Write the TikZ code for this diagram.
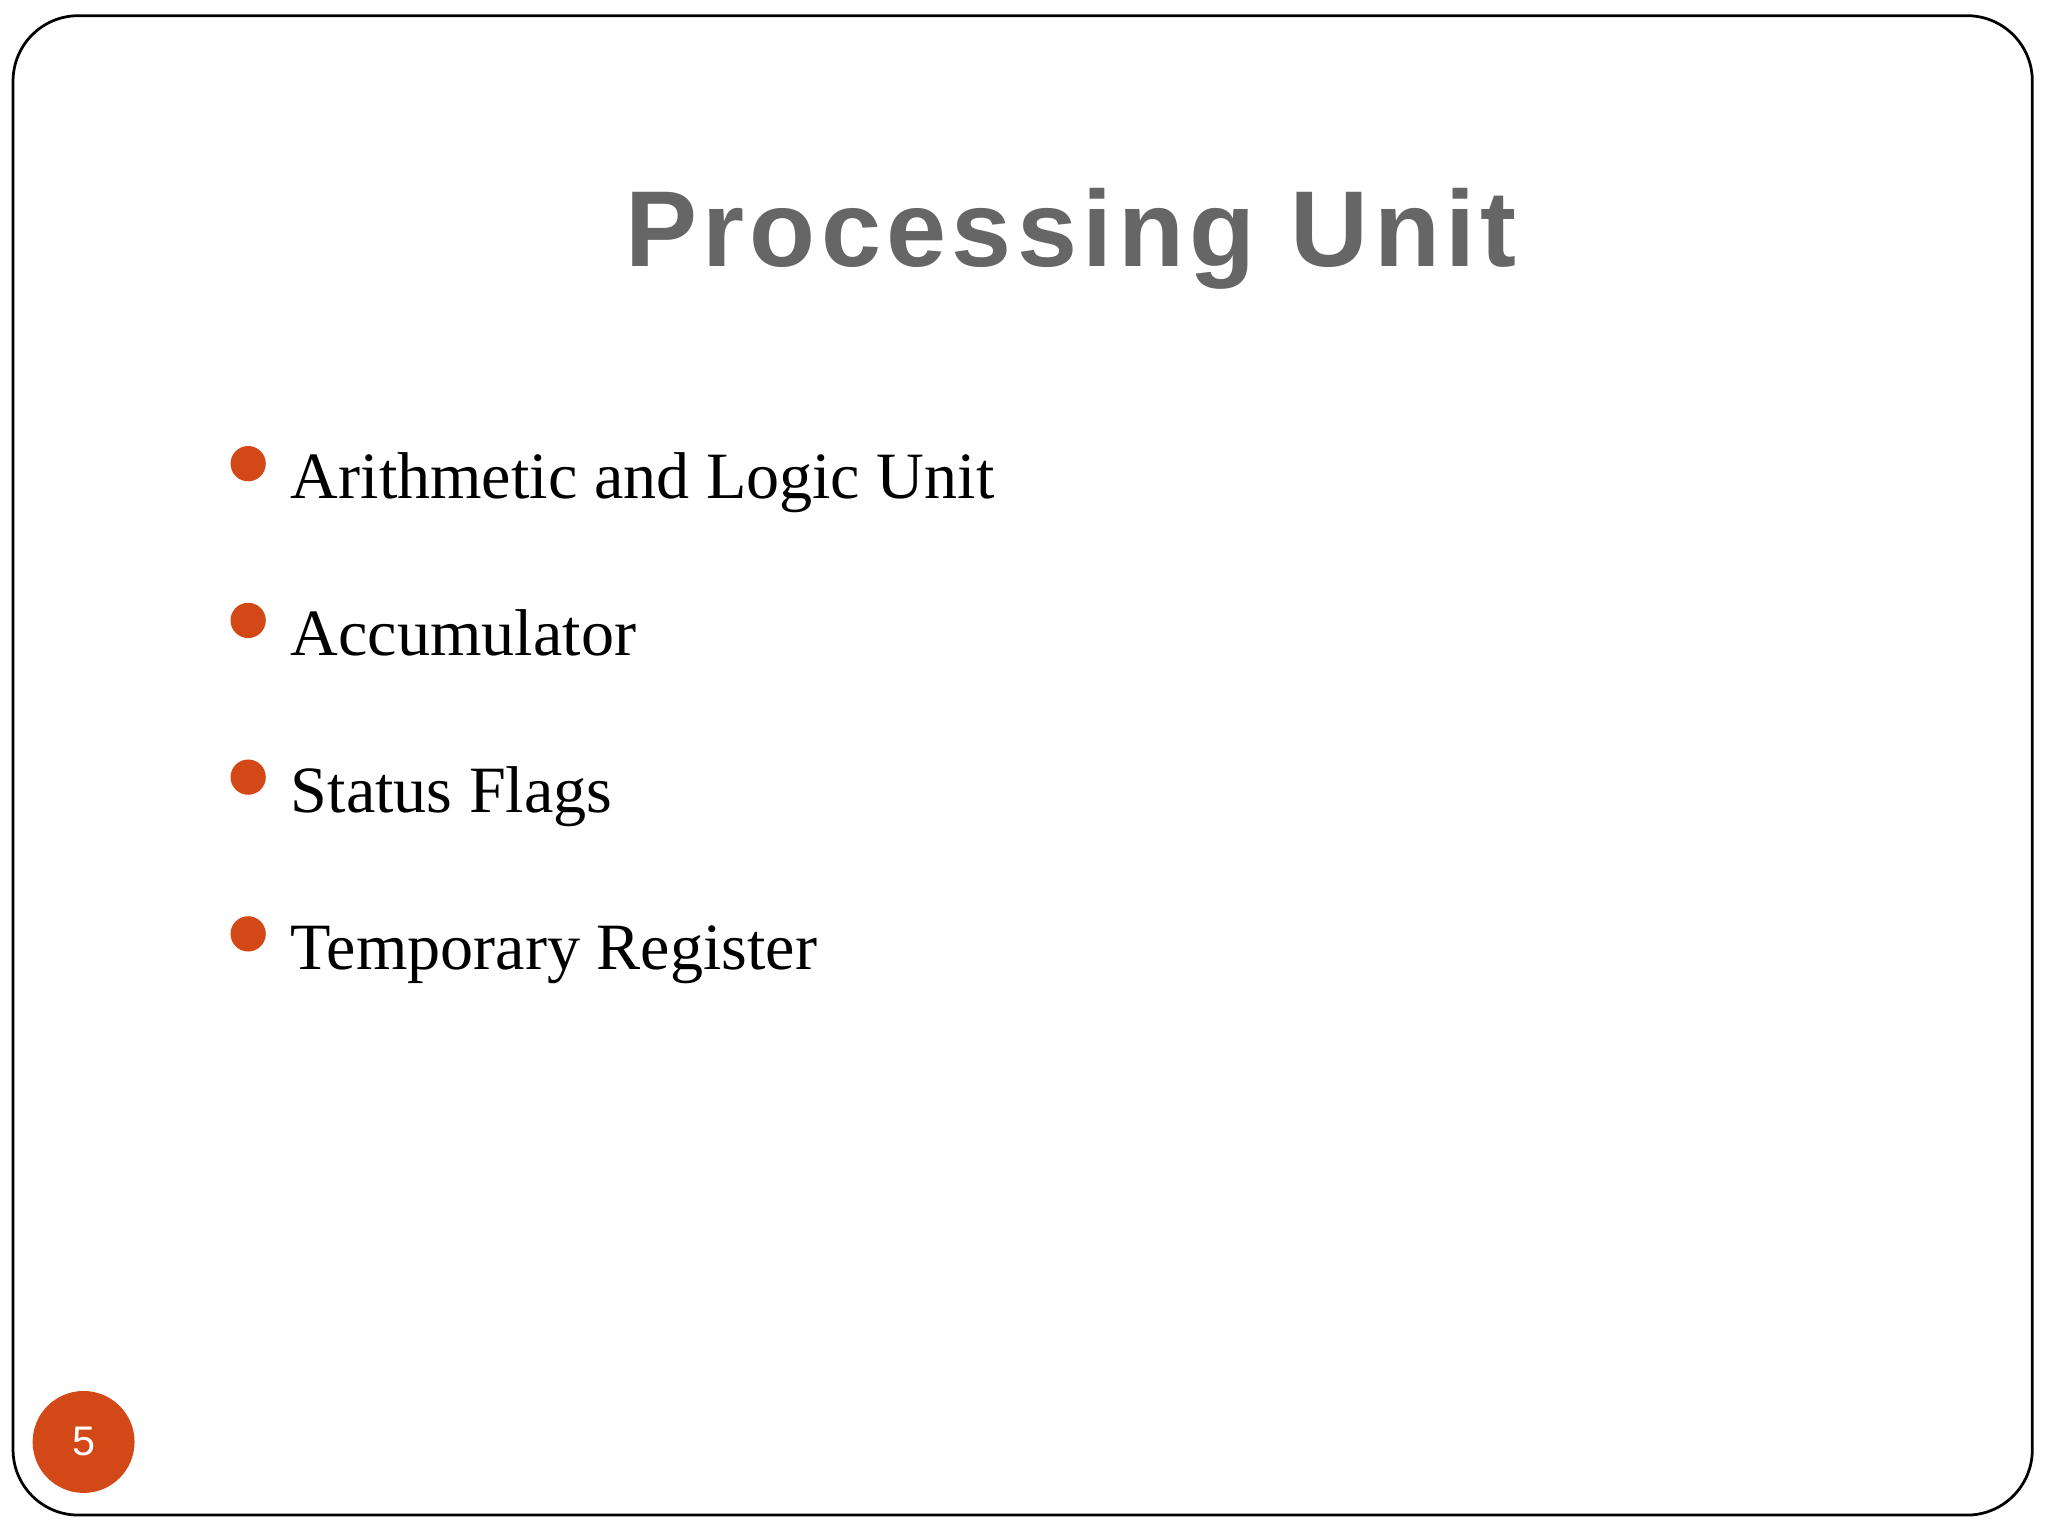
\documentclass[tikz,border=0pt]{standalone}
\usepackage{fontspec}
\setmainfont{Liberation Serif}
\newfontfamily\titlefont[LetterSpace=5]{Liberation Sans}
\newfontfamily\numfont{Liberation Sans}
\definecolor{accent}{HTML}{D34817}
\definecolor{titlegray}{HTML}{666666}
\begin{document}
\begin{tikzpicture}[x=0.01cm,y=-0.01cm,
  bullet/.style={circle,fill=accent,minimum size=0.27cm,inner sep=0},
  item/.style={anchor=base west,font=\fontsize{14.4}{17}\selectfont,inner sep=0}]
\useasboundingbox (0,0) rectangle (1568,1176);
\draw[line width=0.6pt,rounded corners=0.5cm] (10,12) rectangle (1556,1160);
\node[font=\titlefont\bfseries\fontsize{23.5}{28}\selectfont,text=titlegray] (title) at (820,183) {Processing Unit};
\foreach \t [count=\i] in {Arithmetic and Logic Unit,Accumulator,Status Flags,Temporary Register}{
  \node[bullet] (b\i) at (190,235+120*\i) {};
  \node[item] (t\i) at (222,262+120*\i) {\t};
}
\node[circle,fill=accent,minimum size=0.78cm,inner sep=0,text=white,font=\numfont\fontsize{9}{10}\selectfont] (num) at (64,1104) {5};
\end{tikzpicture}
\end{document}
